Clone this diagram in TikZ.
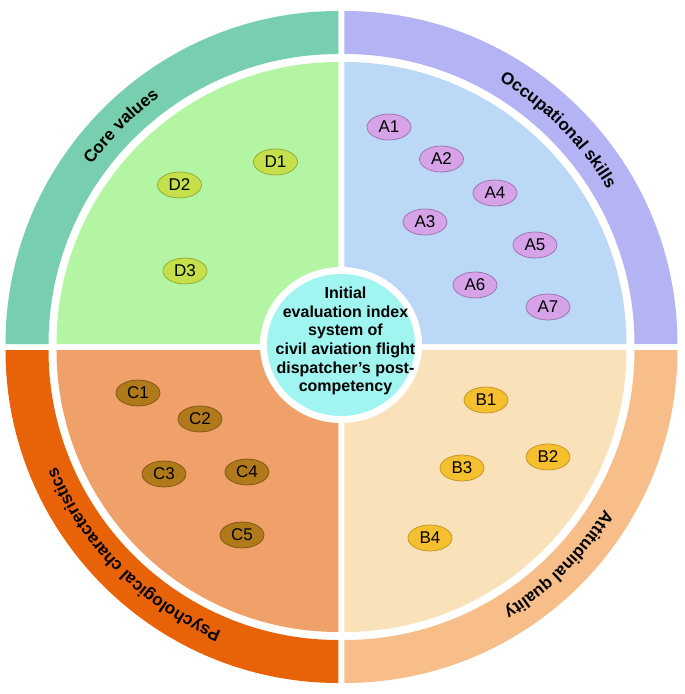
\documentclass[tikz,border=0pt]{standalone}
\usepackage{fontspec}
\setmainfont{Liberation Sans}
\usetikzlibrary{shapes.geometric,decorations.text}
\definecolor{ringD}{HTML}{78CFAF}
\definecolor{secD}{HTML}{B3F5A3}
\definecolor{ringA}{HTML}{B4B4F5}
\definecolor{secA}{HTML}{BBD8F7}
\definecolor{ringC}{HTML}{E86308}
\definecolor{secC}{HTML}{F0A069}
\definecolor{ringB}{HTML}{F8BE8A}
\definecolor{secB}{HTML}{F9E2B9}
\definecolor{hub}{HTML}{A0F5F0}
\definecolor{fillD}{HTML}{C5E04A}
\definecolor{lineD}{HTML}{8FA630}
\definecolor{fillA}{HTML}{D6A2E8}
\definecolor{lineA}{HTML}{9870A8}
\definecolor{fillC}{HTML}{B07A1A}
\definecolor{lineC}{HTML}{7A5410}
\definecolor{fillB}{HTML}{F5C02E}
\definecolor{lineB}{HTML}{C09020}
\newcommand{\ringfont}{\bfseries\fontsize{17}{20}\selectfont}
\tikzset{
  item/.style={ellipse, minimum width=44pt, minimum height=26pt, inner sep=0pt, line width=0.7pt, font=\fontsize{17}{20}\selectfont},
  itemD/.style={item, fill=fillD, draw=lineD},
  itemA/.style={item, fill=fillA, draw=lineA},
  itemC/.style={item, fill=fillC, draw=lineC},
  itemB/.style={item, fill=fillB, draw=lineB},
  ringlabel/.style={decorate, decoration={text along path, text align=center, text={|\ringfont|#1}}}
}
\begin{document}
\begin{tikzpicture}[x=1pt,y=1pt]
\useasboundingbox (-341.5,-347) rectangle (343.5,347);
% top-left quadrant
\begin{scope}[shift={(-3,3)}]
  \fill[ringD] (180:333pt) arc[start angle=180,end angle=90,radius=333pt] -- (90:290pt) arc[start angle=90,end angle=180,radius=290pt] -- cycle;
  \fill[secD] (0,0) -- (180:282pt) arc[start angle=180,end angle=90,radius=282pt] -- cycle;
  \path[ringlabel={Core values}] (180:305pt) arc[start angle=180,end angle=90,radius=305pt];
\end{scope}
% top-right quadrant
\begin{scope}[shift={(3,3)}]
  \fill[ringA] (90:333pt) arc[start angle=90,end angle=0,radius=333pt] -- (0:290pt) arc[start angle=0,end angle=90,radius=290pt] -- cycle;
  \fill[secA] (0,0) -- (90:282pt) arc[start angle=90,end angle=0,radius=282pt] -- cycle;
  \path[ringlabel={Occupational skills}] (90:305pt) arc[start angle=90,end angle=0,radius=305pt];
\end{scope}
% bottom-left quadrant
\begin{scope}[shift={(-3,-3)}]
  \fill[ringC] (270:333pt) arc[start angle=270,end angle=180,radius=333pt] -- (180:290pt) arc[start angle=180,end angle=270,radius=290pt] -- cycle;
  \fill[secC] (0,0) -- (270:282pt) arc[start angle=270,end angle=180,radius=282pt] -- cycle;
  \path[ringlabel={Psychological characteristics}] (270:305pt) arc[start angle=270,end angle=180,radius=305pt];
\end{scope}
% bottom-right quadrant
\begin{scope}[shift={(3,-3)}]
  \fill[ringB] (360:333pt) arc[start angle=360,end angle=270,radius=333pt] -- (270:290pt) arc[start angle=270,end angle=360,radius=290pt] -- cycle;
  \fill[secB] (0,0) -- (360:282pt) arc[start angle=360,end angle=270,radius=282pt] -- cycle;
  \path[ringlabel={Attitudinal quality}] (360:305pt) arc[start angle=360,end angle=270,radius=305pt];
\end{scope}
% hub
\fill[white] (-0.5,2) ellipse[x radius=81pt, y radius=78pt];
\node[ellipse, fill=hub, minimum width=148pt, minimum height=142pt, inner sep=0pt] (hubc) at (-0.5,2) {};
\node[align=center, font=\bfseries\fontsize{16}{18.7}\selectfont] (hubtext) at (4,6)
  {Initial\\evaluation index\\system of\\civil aviation flight\\dispatcher’s post-\\competency};
% items
\node[itemD] (D1) at (-66,185) {D1};
\node[itemD] (D2) at (-162,162) {D2};
\node[itemD] (D3) at (-156.5,76) {D3};
\node[itemA] (A1) at (47.5,220) {A1};
\node[itemA] (A2) at (100,188) {A2};
\node[itemA] (A4) at (153.5,154) {A4};
\node[itemA] (A3) at (83.5,125) {A3};
\node[itemA] (A5) at (193.5,102) {A5};
\node[itemA] (A6) at (133.5,62) {A6};
\node[itemA] (A7) at (206.5,40) {A7};
\node[itemC] (C1) at (-203.5,-46) {C1};
\node[itemC] (C2) at (-141.5,-72) {C2};
\node[itemC] (C3) at (-177.5,-127) {C3};
\node[itemC] (C4) at (-94.5,-125) {C4};
\node[itemC] (C5) at (-99.5,-188) {C5};
\node[itemB] (B1) at (144.5,-53) {B1};
\node[itemB] (B2) at (206.5,-110) {B2};
\node[itemB] (B3) at (120.5,-121) {B3};
\node[itemB] (B4) at (88.5,-191) {B4};
\end{tikzpicture}
\end{document}
